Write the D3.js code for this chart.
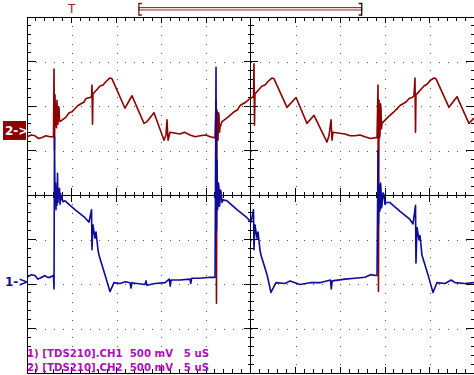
<!DOCTYPE html>
<html>
<head>
<meta charset="utf-8">
<script src="https://cdn.jsdelivr.net/npm/d3@7"></script>
<style>
  body { margin: 0; background: #fff; overflow: hidden; }
  svg { display: block; }
</style>
</head>
<body>
<svg width="474" height="375"></svg>
<script>
// CH2 (red) trace, time in us from left edge of screen, volts from its ground marker
const ch2Time = [0, 0.5, 0.89, 1.3, 1.68, 2.1, 2.57, 2.96, 3.02, 3.07, 3.13, 3.19, 3.24, 3.30, 3.35, 3.41, 3.46, 3.52, 3.58, 3.63, 3.69,
  4.36, 4.7, 5.03, 5.4, 5.70, 6.37, 6.6, 7.04, 7.21, 7.26, 7.32, 7.37, 8.16, 8.5, 8.83, 9.27, 9.50,
  10.95, 11.73, 13.07, 13.41, 14.19, 15.31, 15.53, 15.64, 15.76, 15.98, 17.09, 17.6, 18.21, 18.8, 19.33, 20.0, 20.45, 20.89,
  21.01, 21.12, 21.17, 21.23, 21.29, 21.34, 21.40, 21.45, 21.51, 21.56, 21.79,
  22.46, 23.13, 23.5, 23.80, 24.47, 24.8, 25.14, 25.31, 25.36, 25.42, 25.47, 26.26, 26.6, 26.93, 27.37, 27.60,
  29.05, 30.06, 31.28, 32.07, 33.52, 33.74, 33.97, 34.08, 34.19, 35.53, 36.1, 36.65, 37.2, 37.76, 38.4, 38.99,
  39.11, 39.22, 39.27, 39.33, 39.39, 39.44, 39.50, 39.55, 39.61, 39.66,
  40.33, 41.00, 41.3, 41.68, 42.35, 42.7, 43.02, 43.24, 43.35, 43.41, 43.46, 44.36, 44.7, 45.03, 45.47, 45.70,
  47.15, 48.04, 49.38, 49.94];
const ch2Volts = [-0.07, -0.05, -0.06, -0.09, -0.08, -0.06, -0.07, -0.07, 0.69, -0.22, 0.40, 0.05, 0.30, 0.03, 0.34, 0.10, 0.07, 0.27, 0.25, 0.12, 0.10,
  0.15, 0.20, 0.21, 0.25, 0.28, 0.32, 0.36, 0.37, 0.38, 0.51, 0.07, 0.41, 0.50, 0.51, 0.55, 0.59, 0.58,
  0.25, 0.39, 0.08, 0.10, 0.20, -0.11, -0.05, 0.12, -0.11, -0.02, -0.04, -0.02, -0.05, -0.07, -0.06, -0.05, -0.07, -0.08,
  -0.08, 0.34, -1.94, 0.23, -0.05, -0.11, 0.20, 0.17, -0.02, 0.03, 0.10,
  0.15, 0.21, 0.23, 0.28, 0.32, 0.35, 0.37, 0.38, 0.75, 0.06, 0.41, 0.50, 0.51, 0.55, 0.59, 0.58,
  0.26, 0.37, 0.08, 0.17, -0.13, -0.06, 0.12, -0.11, -0.02, -0.04, -0.06, -0.06, -0.05, -0.07, -0.09, -0.08,
  -0.08, 0.51, -1.81, 0.34, -0.08, -0.05, 0.30, 0.25, 0.02, 0.08,
  0.15, 0.21, 0.24, 0.28, 0.32, 0.36, 0.37, 0.39, 0.59, -0.02, 0.40, 0.50, 0.52, 0.56, 0.59, 0.58,
  0.26, 0.38, 0.08, 0.14];

// CH1 (blue) trace
const ch1Time = [0, 0.5, 0.89, 1.2, 1.45, 2.01, 2.3, 2.57, 2.96, 3.02, 3.07, 3.13, 3.19, 3.24, 3.30, 3.35, 3.41, 3.46, 3.52, 3.58, 3.63, 3.69, 3.75, 3.80, 3.9, 4.0,
  4.25, 5.36, 6.48, 6.93, 7.21, 7.26, 7.37, 7.60, 7.71, 7.93, 8.04, 8.71, 9.27, 9.72,
  10.39, 11.0, 11.51, 11.62, 11.73, 12.3, 13.18, 13.3, 13.4, 14.30, 15.42, 15.9, 16.0, 16.1, 17.09, 18.21, 18.3, 18.4, 19.33, 20.45, 20.89,
  21.01, 21.12, 21.17, 21.23, 21.29, 21.34, 21.40, 21.45, 21.51, 21.56, 21.62, 21.68, 21.79, 21.90,
  22.35, 23.46, 24.58, 25.03, 25.31, 25.36, 25.47, 25.70, 25.81, 26.03, 26.14, 26.82, 27.26, 27.82,
  28.83, 29.4, 29.94, 30.50, 31.62, 32.74, 33.9, 34.0, 34.1, 35.53, 36.65, 37.76, 38.4, 38.99,
  39.11, 39.22, 39.27, 39.33, 39.39, 39.44, 39.50, 39.55, 39.61, 39.66, 39.78, 39.89, 40.0, 40.11,
  40.56, 41.68, 42.79, 43.13, 43.41, 43.46, 43.58, 43.80, 43.91, 44.13, 44.80, 45.36, 45.81,
  46.70, 47.4, 47.82, 48.94, 49.94];
const ch1Volts = [0.04, 0.07, 0.06, 0.02, 0.03, 0.06, 0.04, 0.04, 0.06, -0.09, 1.62, 0.91, 1.10, 0.80, 1.05, 0.85, 1.21, 0.88, 1.02, 0.93, 1.04, 0.86, 0.98, 0.91, 0.95, 0.89,
  0.90, 0.80, 0.71, 0.66, 0.80, 0.35, 0.63, 0.48, 0.55, 0.35, 0.29, 0.07, -0.12, -0.02,
  -0.03, -0.01, -0.02, -0.08, -0.02, -0.03, -0.04, 0.00, -0.05, -0.03, -0.02, 0.02, -0.06, 0.01, 0.01, 0.02, -0.03, 0.03, 0.03, 0.04, 0.04,
  0.04, 2.40, 0.57, 1.36, 0.80, 0.85, 1.10, 1.04, 0.84, 0.89, 1.02, 1.00, 0.88, 0.91,
  0.90, 0.80, 0.71, 0.66, 0.80, 0.35, 0.63, 0.48, 0.55, 0.35, 0.29, 0.07, -0.13, -0.02,
  -0.03, 0.00, -0.02, -0.04, -0.02, -0.02, 0.01, -0.09, 0.00, 0.02, 0.03, 0.04, 0.07, 0.06,
  0.06, 1.47, 0.63, 1.08, 0.78, 0.80, 1.10, 1.04, 0.82, 0.85, 0.99, 0.97, 0.86, 0.88,
  0.88, 0.78, 0.69, 0.64, 0.85, 0.20, 0.60, 0.46, 0.51, 0.29, 0.07, -0.13, -0.02,
  -0.03, 0.01, -0.02, -0.03, -0.02];

const usPerDiv = 5;
const voltsPerDiv = 0.5;
const ch1Position = -1.93;   // divisions from centre
const ch2Position = 1.45;
const triggerUs = 5;
const windowUs = [12.5, 37.4];
const legendLines = ["1) [TDS210].CH1  500 mV   5 uS", "2) [TDS210].CH2  500 mV   5 uS"];

const red = "#8c0000", blue = "#0c0c98", magenta = "#ad10b8";

const svg = d3.select("svg");
const x = d3.scaleLinear().domain([0, 10 * usPerDiv]).range([27, 474.5]);
const y = d3.scaleLinear().domain([-4, 4]).range([373, 17]);

const minorX = d3.range(0, 10 * usPerDiv + 0.01, usPerDiv / 5);
const minorY = d3.range(-4, 4.01, 0.2).map(d => Math.round(d * 10) / 10);
const majorX = d3.range(1, 10).map(d => d * usPerDiv).filter(d => d !== 25);
const majorY = [-3, -2, -1, 1, 2, 3];

// dotted graticule
const grid = svg.append("g").attr("fill", "#555");
majorY.forEach(gy => {
  grid.selectAll(null).data(minorX.slice(1, -1)).join("rect")
    .attr("x", d => Math.round(x(d))).attr("y", Math.round(y(gy)))
    .attr("width", 1).attr("height", 1);
});
majorX.forEach(gx => {
  grid.selectAll(null).data(minorY.slice(1, -1)).join("rect")
    .attr("x", Math.round(x(gx))).attr("y", d => Math.round(y(d)))
    .attr("width", 1).attr("height", 1);
});

// frame and centre axes with ticks
const frame = svg.append("g").attr("stroke", "#000").attr("stroke-width", 1).attr("shape-rendering", "crispEdges");
const L = x(0), R = x(50), T = y(4), B = y(-4), CX = x(25), CY = y(0);
const isMajX = d => Math.abs(d / usPerDiv - Math.round(d / usPerDiv)) < 1e-6;
const isMajY = d => Math.abs(d - Math.round(d)) < 1e-6;

frame.append("rect").attr("x", L + 0.5).attr("y", T + 0.5).attr("width", R - L).attr("height", B - T).attr("fill", "none");
frame.append("line").attr("x1", L).attr("x2", R).attr("y1", CY).attr("y2", CY);
frame.append("line").attr("x1", CX).attr("x2", CX).attr("y1", T).attr("y2", B);

frame.selectAll(null).data(minorX).join("line")   // top and bottom
  .attr("x1", d => x(d)).attr("x2", d => x(d))
  .attr("y1", T).attr("y2", d => T + (isMajX(d) ? 6 : 4));
frame.selectAll(null).data(minorX).join("line")
  .attr("x1", d => x(d)).attr("x2", d => x(d))
  .attr("y1", B).attr("y2", d => B - (isMajX(d) ? 6 : 4));
frame.selectAll(null).data(minorY).join("line")   // left and right
  .attr("y1", d => y(d)).attr("y2", d => y(d))
  .attr("x1", L).attr("x2", d => L + (isMajY(d) ? 9 : 4));
frame.selectAll(null).data(minorY).join("line")
  .attr("y1", d => y(d)).attr("y2", d => y(d))
  .attr("x1", R).attr("x2", d => R - (isMajY(d) ? 9 : 4));
frame.selectAll(null).data(minorX).join("line")   // centre horizontal
  .attr("x1", d => x(d)).attr("x2", d => x(d))
  .attr("y1", d => CY - (isMajX(d) ? 7 : 3)).attr("y2", d => CY + (isMajX(d) ? 7 : 3));
frame.selectAll(null).data(minorY).join("line")   // centre vertical
  .attr("y1", d => y(d)).attr("y2", d => y(d))
  .attr("x1", d => CX - (isMajY(d) ? 7 : 3)).attr("x2", d => CX + (isMajY(d) ? 7 : 3));

// traces
const trace = (times, volts, pos) => d3.line()
  .x((d, i) => x(times[i]))
  .y(d => y(pos + d / voltsPerDiv))(volts);

svg.append("path").attr("d", trace(ch2Time, ch2Volts, ch2Position))
  .attr("fill", "none").attr("stroke", red).attr("stroke-width", 1.6).attr("stroke-linejoin", "round");
svg.append("path").attr("d", trace(ch1Time, ch1Volts, ch1Position))
  .attr("fill", "none").attr("stroke", blue).attr("stroke-width", 1.6).attr("stroke-linejoin", "round");

// channel ground markers
svg.append("rect").attr("x", 3).attr("y", y(ch2Position) - 9.5).attr("width", 23).attr("height", 19).attr("fill", red);
svg.append("text").attr("x", 5).attr("y", y(ch2Position) + 4.5)
  .attr("font-family", "DejaVu Sans").attr("font-weight", "bold").attr("font-size", 12)
  .attr("fill", "#fff").text("2->");
svg.append("text").attr("x", 5).attr("y", y(ch1Position) + 5)
  .attr("font-family", "DejaVu Sans").attr("font-weight", "bold").attr("font-size", 12)
  .attr("fill", blue).text("1->");

// trigger marker and record window
svg.append("text").attr("x", x(triggerUs)).attr("y", 13).attr("text-anchor", "middle")
  .attr("font-family", "DejaVu Sans").attr("font-size", 12).attr("fill", "#8c2a2a").text("T");
svg.append("rect").attr("x", x(windowUs[0])).attr("y", 7.5).attr("width", x(windowUs[1]) - x(windowUs[0])).attr("height", 2.5)
  .attr("fill", "#f1dcdc").attr("stroke", "#8c3a3a").attr("stroke-width", 1);
svg.append("path").attr("d", `M${x(windowUs[0]) + 3},3.5H${x(windowUs[0])}V15H${x(windowUs[0]) + 3}`)
  .attr("fill", "none").attr("stroke", "#6a2020").attr("stroke-width", 1.3);
svg.append("path").attr("d", `M${x(windowUs[1]) - 3},3.5H${x(windowUs[1])}V15H${x(windowUs[1]) - 3}`)
  .attr("fill", "none").attr("stroke", "#200808").attr("stroke-width", 1.3);

// channel legend
svg.selectAll(".legend").data(legendLines).join("text")
  .attr("class", "legend")
  .attr("x", 27).attr("y", (d, i) => 357 + i * 14)
  .attr("font-family", "DejaVu Sans").attr("font-weight", "bold").attr("font-size", 11)
  .attr("fill", magenta).attr("textLength", 182).attr("lengthAdjust", "spacingAndGlyphs")
  .style("white-space", "pre").text(d => d);
</script>
</body>
</html>
